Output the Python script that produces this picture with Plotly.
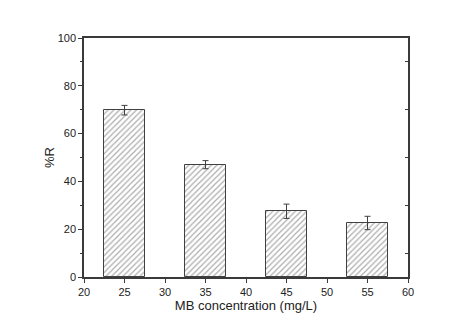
import plotly.graph_objects as go

# MB removal (%R) at each initial concentration
concentration = [25, 35, 45, 55]
removal = [69.8, 47.0, 27.5, 22.6]
removal_err = [2.0, 1.7, 3.0, 2.8]

x_ticks = [20, 25, 30, 35, 40, 45, 50, 55, 60]
y_ticks = [0, 20, 40, 60, 80, 100]
right_ticks = [10, 30, 50, 70, 90]

axis_color = "#3a3a3a"
font_family = "Liberation Sans, Arial, sans-serif"

fig = go.Figure()

fig.add_trace(go.Bar(
    x=concentration,
    y=removal,
    width=5,
    marker=dict(
        color="white",
        line=dict(color="#404040", width=1),
        pattern=dict(shape="/", size=4, solidity=0.3,
                     fgcolor="#5a5a5a", bgcolor="white"),
    ),
    error_y=dict(type="data", array=removal_err, visible=True,
                 color="#404040", thickness=1, width=3),
    showlegend=False,
))

# invisible trace to drive the mirrored right-hand axis
fig.add_trace(go.Scatter(x=[20], y=[0], yaxis="y2", mode="markers",
                         marker=dict(opacity=0), showlegend=False,
                         hoverinfo="skip"))

fig.update_layout(
    width=474, height=333,
    margin=dict(l=84, r=66, t=38, b=56),
    paper_bgcolor="white", plot_bgcolor="white",
    font=dict(family=font_family, color="#222222", size=11),
    xaxis=dict(
        range=[20, 60], tickvals=x_ticks, ticktext=[str(v) for v in x_ticks],
        ticks="outside", ticklen=4, tickwidth=1, tickcolor=axis_color,
        showline=True, linecolor=axis_color, linewidth=1.5, mirror=True,
        showgrid=False, zeroline=False,
        tickfont=dict(size=11),
        title=dict(text="MB concentration (mg/L)", font=dict(size=13), standoff=4),
    ),
    yaxis=dict(
        range=[0, 100], tickvals=y_ticks, ticktext=[str(v) for v in y_ticks],
        ticks="outside", ticklen=4, tickwidth=1, tickcolor=axis_color,
        minor=dict(dtick=10, ticks="outside", ticklen=2, tickcolor=axis_color),
        showline=True, linecolor=axis_color, linewidth=1.5, mirror=True,
        showgrid=False, zeroline=False,
        tickfont=dict(size=11),
        title=dict(text="%R", font=dict(size=13), standoff=0),
    ),
    yaxis2=dict(
        overlaying="y", side="right", range=[0, 100],
        tickvals=right_ticks, showticklabels=False,
        ticks="inside", ticklen=3, tickwidth=1, tickcolor=axis_color,
        showline=False, showgrid=False, zeroline=False,
    ),
    bargap=0,
)

fig.write_html("out.html")
